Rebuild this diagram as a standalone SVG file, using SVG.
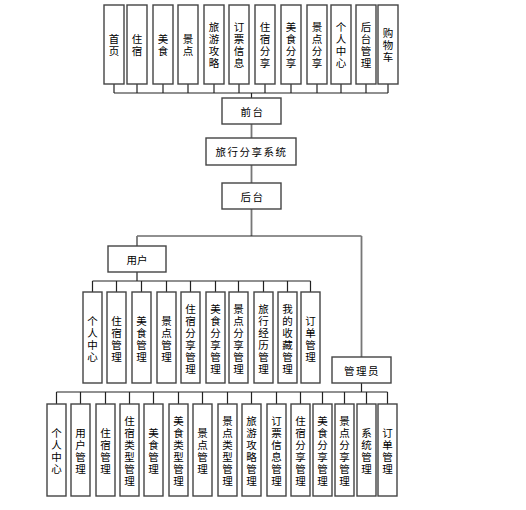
<svg xmlns="http://www.w3.org/2000/svg" width="526" height="510" viewBox="0 0 526 510">
<style>
.b{fill:#fff;stroke:#444;stroke-width:1.4}
.t{font-family:"Noto Sans CJK SC","Noto Sans",sans-serif;font-size:10.5px;fill:#000;text-anchor:middle;dominant-baseline:central}
.h{letter-spacing:1.5px}
.c{fill:none;stroke:#222;stroke-width:1.2}
.g{fill:none;stroke:#777;stroke-width:1.8}
</style>
<rect width="526" height="510" fill="#fff"/>
<g id="connectors">
<path class="c" d="M114 84V93M137 84V93M163 84V93M188 84V93M214 84V93M239 84V93M265 84V93M291 84V93M317 84V93M341 84V93M366 84V93M388 84V93M114 93H388"/>
<path class="c" d="M251.5 93V98"/>
<path class="g" d="M251.5 124V138M251.5 165V183M251.5 209V236"/>
<path class="c" d="M137 236H361.5"/>
<path class="g" d="M137 236V246M361.5 236V357"/>
<path class="c" d="M137 272V281M92.5 281H310.5M92.5 281V292M116.5 281V292M141.5 281V292M166.5 281V292M190.5 281V292M215.5 281V292M238.5 281V292M263.5 281V292M287.5 281V292M310.5 281V292"/>
<path class="c" d="M361.5 383V392M56.5 392H387.5M56.5 392V404M80.5 392V404M105.5 392V404M129.5 392V404M153.5 392V404M178.5 392V404M202.5 392V404M227.5 392V404M251.5 392V404M276.5 392V404M300.5 392V404M322.5 392V404M344.5 392V404M366.5 392V404M387.5 392V404"/>
</g>
<g id="n_shouye"><rect class="b" x="104" y="5" width="20" height="79"/><text class="t"><tspan x="114" y="38">首</tspan><tspan x="114" y="50">页</tspan></text></g>
<g id="n_zhusu"><rect class="b" x="127" y="5" width="20" height="79"/><text class="t"><tspan x="137" y="38">住</tspan><tspan x="137" y="50">宿</tspan></text></g>
<g id="n_meishi"><rect class="b" x="153" y="5" width="20" height="79"/><text class="t"><tspan x="163" y="38">美</tspan><tspan x="163" y="50">食</tspan></text></g>
<g id="n_jingdian"><rect class="b" x="178" y="5" width="20" height="79"/><text class="t"><tspan x="188" y="38">景</tspan><tspan x="188" y="50">点</tspan></text></g>
<g id="n_lvyou"><rect class="b" x="204" y="5" width="20" height="79"/><text class="t"><tspan x="214" y="26">旅</tspan><tspan x="214" y="38">游</tspan><tspan x="214" y="50">攻</tspan><tspan x="214" y="62">略</tspan></text></g>
<g id="n_dingpiao"><rect class="b" x="229" y="5" width="20" height="79"/><text class="t"><tspan x="239" y="26">订</tspan><tspan x="239" y="38">票</tspan><tspan x="239" y="50">信</tspan><tspan x="239" y="62">息</tspan></text></g>
<g id="n_zsfx"><rect class="b" x="255" y="5" width="20" height="79"/><text class="t"><tspan x="265" y="26">住</tspan><tspan x="265" y="38">宿</tspan><tspan x="265" y="50">分</tspan><tspan x="265" y="62">享</tspan></text></g>
<g id="n_msfx"><rect class="b" x="281" y="5" width="20" height="79"/><text class="t"><tspan x="291" y="26">美</tspan><tspan x="291" y="38">食</tspan><tspan x="291" y="50">分</tspan><tspan x="291" y="62">享</tspan></text></g>
<g id="n_jdfx"><rect class="b" x="307" y="5" width="20" height="79"/><text class="t"><tspan x="317" y="26">景</tspan><tspan x="317" y="38">点</tspan><tspan x="317" y="50">分</tspan><tspan x="317" y="62">享</tspan></text></g>
<g id="n_grzx"><rect class="b" x="331" y="5" width="20" height="79"/><text class="t"><tspan x="341" y="26">个</tspan><tspan x="341" y="38">人</tspan><tspan x="341" y="50">中</tspan><tspan x="341" y="62">心</tspan></text></g>
<g id="n_htgl"><rect class="b" x="356" y="5" width="20" height="79"/><text class="t"><tspan x="366" y="26">后</tspan><tspan x="366" y="38">台</tspan><tspan x="366" y="50">管</tspan><tspan x="366" y="62">理</tspan></text></g>
<g id="n_gwc"><rect class="b" x="378" y="5" width="20" height="79"/><text class="t"><tspan x="388" y="32">购</tspan><tspan x="388" y="44">物</tspan><tspan x="388" y="56">车</tspan></text></g>
<g id="n_qiantai"><rect class="b" x="222" y="98" width="59" height="26"/><text class="t h" x="252.5" y="111">前台</text></g>
<g id="n_system"><rect class="b" x="206" y="138" width="90" height="27"/><text class="t h" x="251.5" y="151.5">旅行分享系统</text></g>
<g id="n_houtai"><rect class="b" x="222" y="183" width="59" height="26"/><text class="t h" x="252.5" y="196">后台</text></g>
<g id="n_user"><rect class="b" x="108" y="246" width="58" height="26"/><text class="t" x="137" y="259">用户</text></g>
<g id="u1"><rect class="b" x="83" y="292" width="19" height="91"/><text class="t"><tspan x="92.5" y="319.5">个</tspan><tspan x="92.5" y="331.5">人</tspan><tspan x="92.5" y="343.5">中</tspan><tspan x="92.5" y="355.5">心</tspan></text></g>
<g id="u2"><rect class="b" x="107" y="292" width="19" height="91"/><text class="t"><tspan x="116.5" y="319.5">住</tspan><tspan x="116.5" y="331.5">宿</tspan><tspan x="116.5" y="343.5">管</tspan><tspan x="116.5" y="355.5">理</tspan></text></g>
<g id="u3"><rect class="b" x="132" y="292" width="19" height="91"/><text class="t"><tspan x="141.5" y="319.5">美</tspan><tspan x="141.5" y="331.5">食</tspan><tspan x="141.5" y="343.5">管</tspan><tspan x="141.5" y="355.5">理</tspan></text></g>
<g id="u4"><rect class="b" x="157" y="292" width="19" height="91"/><text class="t"><tspan x="166.5" y="319.5">景</tspan><tspan x="166.5" y="331.5">点</tspan><tspan x="166.5" y="343.5">管</tspan><tspan x="166.5" y="355.5">理</tspan></text></g>
<g id="u5"><rect class="b" x="181" y="292" width="19" height="91"/><text class="t"><tspan x="190.5" y="307.5">住</tspan><tspan x="190.5" y="319.5">宿</tspan><tspan x="190.5" y="331.5">分</tspan><tspan x="190.5" y="343.5">享</tspan><tspan x="190.5" y="355.5">管</tspan><tspan x="190.5" y="367.5">理</tspan></text></g>
<g id="u6"><rect class="b" x="206" y="292" width="19" height="91"/><text class="t"><tspan x="215.5" y="307.5">美</tspan><tspan x="215.5" y="319.5">食</tspan><tspan x="215.5" y="331.5">分</tspan><tspan x="215.5" y="343.5">享</tspan><tspan x="215.5" y="355.5">管</tspan><tspan x="215.5" y="367.5">理</tspan></text></g>
<g id="u7"><rect class="b" x="229" y="292" width="19" height="91"/><text class="t"><tspan x="238.5" y="307.5">景</tspan><tspan x="238.5" y="319.5">点</tspan><tspan x="238.5" y="331.5">分</tspan><tspan x="238.5" y="343.5">享</tspan><tspan x="238.5" y="355.5">管</tspan><tspan x="238.5" y="367.5">理</tspan></text></g>
<g id="u8"><rect class="b" x="254" y="292" width="19" height="91"/><text class="t"><tspan x="263.5" y="307.5">旅</tspan><tspan x="263.5" y="319.5">行</tspan><tspan x="263.5" y="331.5">经</tspan><tspan x="263.5" y="343.5">历</tspan><tspan x="263.5" y="355.5">管</tspan><tspan x="263.5" y="367.5">理</tspan></text></g>
<g id="u9"><rect class="b" x="278" y="292" width="19" height="91"/><text class="t"><tspan x="287.5" y="307.5">我</tspan><tspan x="287.5" y="319.5">的</tspan><tspan x="287.5" y="331.5">收</tspan><tspan x="287.5" y="343.5">藏</tspan><tspan x="287.5" y="355.5">管</tspan><tspan x="287.5" y="367.5">理</tspan></text></g>
<g id="u10"><rect class="b" x="301" y="292" width="19" height="91"/><text class="t"><tspan x="310.5" y="319.5">订</tspan><tspan x="310.5" y="331.5">单</tspan><tspan x="310.5" y="343.5">管</tspan><tspan x="310.5" y="355.5">理</tspan></text></g>
<g id="n_admin"><rect class="b" x="332" y="357" width="59" height="26"/><text class="t h" x="362" y="370">管理员</text></g>
<g id="a1"><rect class="b" x="47" y="404" width="19" height="92"/><text class="t"><tspan x="56.5" y="432">个</tspan><tspan x="56.5" y="444">人</tspan><tspan x="56.5" y="456">中</tspan><tspan x="56.5" y="468">心</tspan></text></g>
<g id="a2"><rect class="b" x="71" y="404" width="19" height="92"/><text class="t"><tspan x="80.5" y="432">用</tspan><tspan x="80.5" y="444">户</tspan><tspan x="80.5" y="456">管</tspan><tspan x="80.5" y="468">理</tspan></text></g>
<g id="a3"><rect class="b" x="96" y="404" width="19" height="92"/><text class="t"><tspan x="105.5" y="432">住</tspan><tspan x="105.5" y="444">宿</tspan><tspan x="105.5" y="456">管</tspan><tspan x="105.5" y="468">理</tspan></text></g>
<g id="a4"><rect class="b" x="120" y="404" width="19" height="92"/><text class="t"><tspan x="129.5" y="420">住</tspan><tspan x="129.5" y="432">宿</tspan><tspan x="129.5" y="444">类</tspan><tspan x="129.5" y="456">型</tspan><tspan x="129.5" y="468">管</tspan><tspan x="129.5" y="480">理</tspan></text></g>
<g id="a5"><rect class="b" x="144" y="404" width="19" height="92"/><text class="t"><tspan x="153.5" y="432">美</tspan><tspan x="153.5" y="444">食</tspan><tspan x="153.5" y="456">管</tspan><tspan x="153.5" y="468">理</tspan></text></g>
<g id="a6"><rect class="b" x="169" y="404" width="19" height="92"/><text class="t"><tspan x="178.5" y="420">美</tspan><tspan x="178.5" y="432">食</tspan><tspan x="178.5" y="444">类</tspan><tspan x="178.5" y="456">型</tspan><tspan x="178.5" y="468">管</tspan><tspan x="178.5" y="480">理</tspan></text></g>
<g id="a7"><rect class="b" x="193" y="404" width="19" height="92"/><text class="t"><tspan x="202.5" y="432">景</tspan><tspan x="202.5" y="444">点</tspan><tspan x="202.5" y="456">管</tspan><tspan x="202.5" y="468">理</tspan></text></g>
<g id="a8"><rect class="b" x="218" y="404" width="19" height="92"/><text class="t"><tspan x="227.5" y="420">景</tspan><tspan x="227.5" y="432">点</tspan><tspan x="227.5" y="444">类</tspan><tspan x="227.5" y="456">型</tspan><tspan x="227.5" y="468">管</tspan><tspan x="227.5" y="480">理</tspan></text></g>
<g id="a9"><rect class="b" x="242" y="404" width="19" height="92"/><text class="t"><tspan x="251.5" y="420">旅</tspan><tspan x="251.5" y="432">游</tspan><tspan x="251.5" y="444">攻</tspan><tspan x="251.5" y="456">略</tspan><tspan x="251.5" y="468">管</tspan><tspan x="251.5" y="480">理</tspan></text></g>
<g id="a10"><rect class="b" x="267" y="404" width="19" height="92"/><text class="t"><tspan x="276.5" y="420">订</tspan><tspan x="276.5" y="432">票</tspan><tspan x="276.5" y="444">信</tspan><tspan x="276.5" y="456">息</tspan><tspan x="276.5" y="468">管</tspan><tspan x="276.5" y="480">理</tspan></text></g>
<g id="a11"><rect class="b" x="291" y="404" width="19" height="92"/><text class="t"><tspan x="300.5" y="420">住</tspan><tspan x="300.5" y="432">宿</tspan><tspan x="300.5" y="444">分</tspan><tspan x="300.5" y="456">享</tspan><tspan x="300.5" y="468">管</tspan><tspan x="300.5" y="480">理</tspan></text></g>
<g id="a12"><rect class="b" x="313" y="404" width="19" height="92"/><text class="t"><tspan x="322.5" y="420">美</tspan><tspan x="322.5" y="432">食</tspan><tspan x="322.5" y="444">分</tspan><tspan x="322.5" y="456">享</tspan><tspan x="322.5" y="468">管</tspan><tspan x="322.5" y="480">理</tspan></text></g>
<g id="a13"><rect class="b" x="335" y="404" width="19" height="92"/><text class="t"><tspan x="344.5" y="420">景</tspan><tspan x="344.5" y="432">点</tspan><tspan x="344.5" y="444">分</tspan><tspan x="344.5" y="456">享</tspan><tspan x="344.5" y="468">管</tspan><tspan x="344.5" y="480">理</tspan></text></g>
<g id="a14"><rect class="b" x="357" y="404" width="19" height="92"/><text class="t"><tspan x="366.5" y="432">系</tspan><tspan x="366.5" y="444">统</tspan><tspan x="366.5" y="456">管</tspan><tspan x="366.5" y="468">理</tspan></text></g>
<g id="a15"><rect class="b" x="378" y="404" width="19" height="92"/><text class="t"><tspan x="387.5" y="432">订</tspan><tspan x="387.5" y="444">单</tspan><tspan x="387.5" y="456">管</tspan><tspan x="387.5" y="468">理</tspan></text></g>
</svg>
